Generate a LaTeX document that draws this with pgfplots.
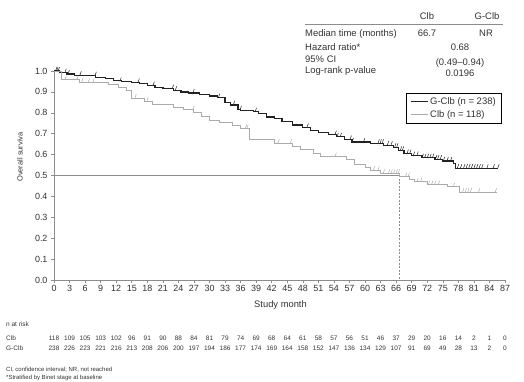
\documentclass[border=0pt]{standalone}
\usepackage{pgfplots}
\pgfplotsset{compat=1.18}
\usepackage{fontspec}
\setmainfont{Liberation Sans}
\definecolor{txt}{HTML}{333333}
\definecolor{axg}{HTML}{8C8C8C}
\definecolor{gcl}{HTML}{222222}
\definecolor{cl}{HTML}{ABABAB}
\pgfdeclareplotmark{cens}{%
  \pgfpathmoveto{\pgfqpoint{0pt}{0pt}}%
  \pgfpathlineto{\pgfqpoint{1.4pt}{4pt}}%
  \pgfusepathqstroke}
\newcommand{\fs}[1]{\fontsize{#1}{#1}\selectfont}
\begin{document}
\begin{tikzpicture}[x=1bp,y=1bp]
\useasboundingbox (0,0) rectangle (524,381);
\begin{axis}[
  at={(54bp,101bp)}, anchor=south west,
  scale only axis, width=451bp, height=209bp,
  xmin=0, xmax=87, ymin=0, ymax=1,
  axis x line*=bottom, axis y line*=left,
  axis line style={axg, line width=1pt},
  clip=false,
  xtick={0,3,6,9,12,15,18,21,24,27,30,33,36,39,42,45,48,51,54,57,60,63,66,69,72,75,78,81,84,87},
  ytick={0,0.1,0.2,0.3,0.4,0.5,0.6,0.7,0.8,0.9,1.0},
  yticklabel style={/pgf/number format/.cd,fixed,fixed zerofill,precision=1},
  /pgf/number format/assume math mode=true,
  tick label style={font=\fs{9}, text=txt},
  tick align=outside, major tick length=3bp,
  tick style={axg, line width=0.6pt},
  xticklabel style={yshift=1bp},
  legend style={at={(0.9933,0.8947)}, anchor=north east, draw=black, line width=0.6pt,
    font=\fs{9.5}, text=txt, inner xsep=4bp, inner ysep=2bp, row sep=1bp},
  legend cell align=left,
  legend image post style={line width=1.2pt},
]
% reference line at 0.5 and median
\addplot[axg, line width=0.7pt, forget plot] coordinates {(0,0.5) (66.7,0.5)};
\addplot[axg, line width=0.7pt, dashed, dash pattern=on 2pt off 1.5pt, forget plot] coordinates {(66.7,0.5) (66.7,0)};
% G-Clb
\addplot[gcl, line width=1.3pt, const plot] coordinates {
(0,1.0) (1,0.992) (2.5,0.985) (4,0.98) (6,0.977) (8,0.97) (10,0.963) (11.5,0.955)
(13,0.95) (15,0.945) (16.5,0.94) (18,0.93) (19.5,0.922) (21,0.915) (23,0.908)
(24.5,0.90) (26,0.895) (28,0.888) (30,0.88) (31.5,0.872) (33,0.85) (34,0.838)
(35.5,0.815) (36,0.81) (38.5,0.805) (39.5,0.795) (41,0.78) (42.5,0.772) (44,0.758)
(46,0.742) (48,0.73) (49.5,0.715) (51,0.705) (53,0.695) (54.5,0.685) (56,0.672)
(57.5,0.66) (61,0.654) (63.5,0.645) (65.5,0.635) (66.5,0.62) (67.5,0.605) (69,0.595)
(71,0.585) (73.5,0.578) (75,0.57) (77,0.558) (77.5,0.535) (85.7,0.535)};
\addlegendentry{G-Clb (n = 238)}
% Clb
\addplot[cl, line width=1pt, const plot] coordinates {
(0,1.0) (1.5,0.958) (5,0.945) (10.5,0.935) (12.5,0.92) (14,0.905) (15,0.87)
(17.5,0.855) (19,0.84) (23,0.825) (25,0.815) (27,0.80) (28.5,0.78) (30,0.765)
(32,0.755) (34.5,0.74) (36,0.725) (37.8,0.67) (42.5,0.655) (46,0.64) (47.5,0.625)
(50,0.605) (51.5,0.59) (56.5,0.575) (58,0.555) (60,0.54) (61,0.525) (63,0.51)
(66.7,0.494) (68.5,0.48) (69.5,0.47) (72,0.455) (76,0.445) (78.2,0.42) (85.5,0.42)};
\addlegendentry{Clb (n = 118)}
% censor marks
\addplot[gcl, only marks, mark=cens, mark options={line width=0.5pt}, forget plot] coordinates {
(0.3,1.0) (0.5,1.0) (0.8,1.0) (2.1,0.992) (2.7,0.985) (5,0.98) (7.9,0.977) (12.7,0.95)
(16.2,0.945) (19.1,0.93) (22.8,0.915) (23.4,0.908) (26.8,0.895) (31.7,0.872) (34.6,0.838)
(35.9,0.815) (38.8,0.805) (48.8,0.73) (54.2,0.695) (54.6,0.685) (55.2,0.685) (57.1,0.672)
(57.5,0.66) (59.7,0.66) (62.5,0.654) (62.9,0.654) (63.3,0.654) (64.3,0.645) (65,0.645)
(65.7,0.635) (66.1,0.635) (66.8,0.62) (67.2,0.62) (68.1,0.605) (68.6,0.605) (69.3,0.595)
(70,0.595) (71,0.585) (71.5,0.585) (72,0.585) (72.5,0.585) (73,0.585) (73.6,0.578)
(74,0.578) (74.5,0.578) (75.1,0.57) (75.8,0.57) (76.5,0.57) (77.8,0.535) (78.4,0.535)
(79,0.535) (79.5,0.535) (80,0.535) (80.5,0.535) (81,0.535) (81.5,0.535) (82,0.535)
(82.5,0.535) (83.5,0.535) (84.7,0.535) (85.6,0.535)};
\addplot[cl, only marks, mark=cens, mark options={line width=0.5pt}, forget plot] coordinates {
(2.1,0.958) (4.4,0.958) (5.3,0.945) (6.6,0.945) (7.5,0.945) (15.6,0.87) (17.9,0.855)
(26.8,0.815) (36.9,0.725) (37.2,0.725) (43.2,0.655) (45.6,0.655) (54.2,0.59) (61.6,0.525)
(62.5,0.525) (63.5,0.51) (64.5,0.51) (65,0.51) (65.5,0.51) (66,0.51) (66.4,0.51)
(67.8,0.494) (68.3,0.494) (70,0.47) (70.7,0.47) (72.2,0.455) (72.8,0.455) (73.4,0.455)
(74.1,0.455) (77,0.445) (78.8,0.42) (79.3,0.42) (79.8,0.42) (80.3,0.42) (81.9,0.42) (85.1,0.42)};
\end{axis}
% y label
\node[rotate=90, font=\fs{7.5}, text=txt] at (20,224) {Overall surviva};
% x label
\node[font=\fs{9.4}, text=txt] at (280.5,76) {Study month};
% summary table
\begin{scope}[every node/.style={font=\fs{9.5}, text=txt, inner sep=0pt}]
\node[anchor=base] at (427,362) {Clb};
\node[anchor=base] at (487,362) {G-Clb};
\draw[axg, line width=0.8pt] (305,357) -- (503,357);
\node[anchor=base west] at (305,345) {Median time (months)};
\node[anchor=base] at (427,345) {66.7};
\node[anchor=base] at (486,345) {NR};
\node[anchor=base west] at (305,331) {Hazard ratio*};
\node[anchor=base] at (460,331) {0.68};
\node[anchor=base west] at (305,319) {95\% CI};
\node[anchor=base] at (460,316) {(0.49–0.94)};
\node[anchor=base west] at (305,308) {Log-rank p-value};
\node[anchor=base] at (460,305) {0.0196};
\end{scope}
% n at risk
\begin{scope}[every node/.style={font=\fs{6.5}, text=txt, inner sep=0pt}]
\node[anchor=base west] at (6,55) {n at risk};
\node[anchor=base west] at (6,41) {Clb};
\node[anchor=base west] at (6,31) {G-Clb};
\foreach \v [count=\i from 0] in {118,109,105,103,102,96,91,90,88,84,81,79,74,69,68,64,61,58,57,56,51,46,37,29,20,16,14,2,1,0}
  \node[anchor=base] at ({54+\i*15.5517},41) {\v};
\foreach \v [count=\i from 0] in {238,226,223,221,216,213,208,206,200,197,194,186,177,174,169,164,158,152,147,136,134,129,107,91,69,49,28,13,2,0}
  \node[anchor=base] at ({54+\i*15.5517},31) {\v};
\end{scope}
\begin{scope}[every node/.style={font=\fs{6}, text=txt, inner sep=0pt}]
\node[anchor=base west] at (6,10) {CI, confidence interval; NR, not reached};
\node[anchor=base west] at (6,2) {*Stratified by Binet stage at baseline};
\end{scope}
\end{tikzpicture}
\end{document}
